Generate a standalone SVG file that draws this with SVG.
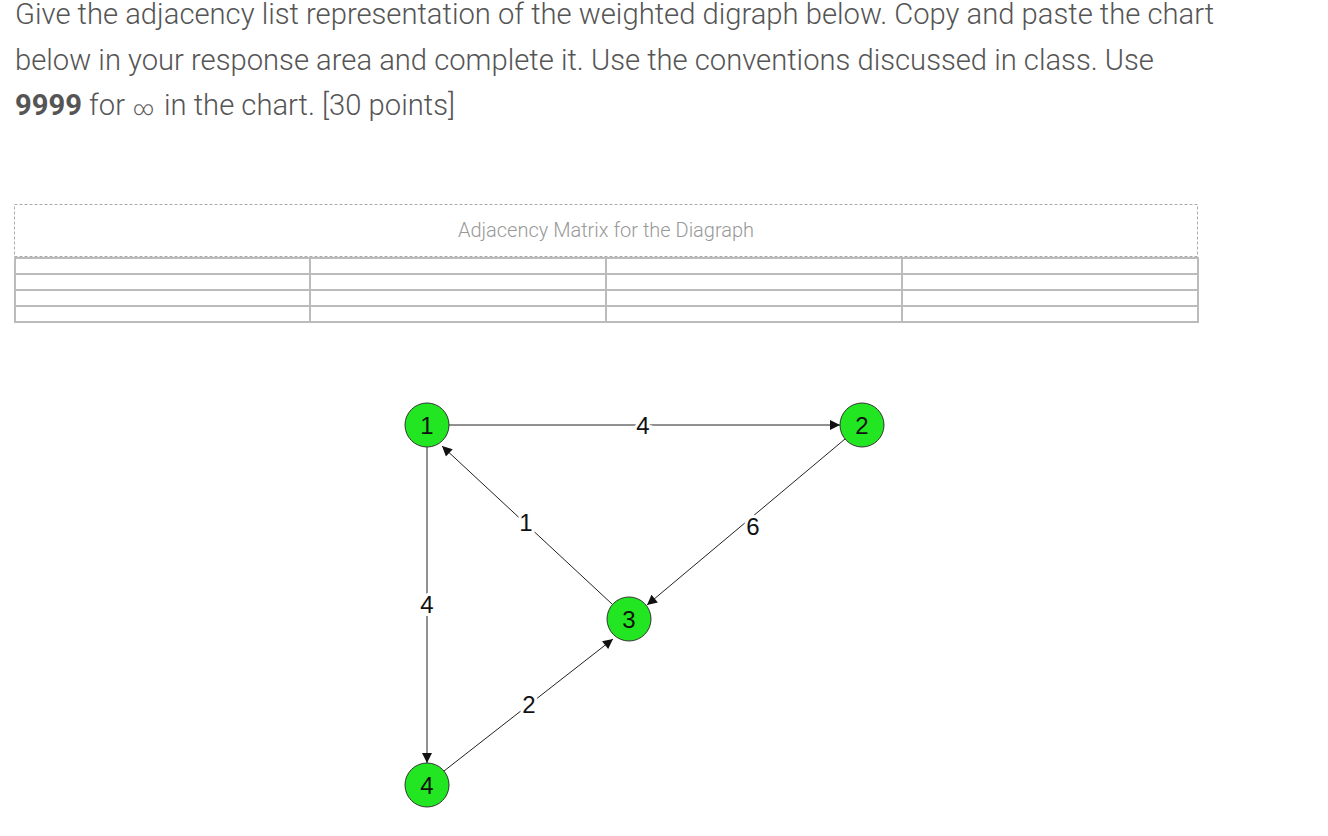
<svg xmlns="http://www.w3.org/2000/svg" width="1328" height="836" viewBox="0 0 1328 836">
<defs>
<style>
.q{font-family:Roboto,"Liberation Sans",sans-serif;font-weight:300;font-size:29.2px;fill:#555}
.cap{font-family:Roboto,"Liberation Sans",sans-serif;font-weight:300;font-size:20px;fill:#999}
.grid{stroke:#bbb;stroke-width:2;fill:none}
.edge{stroke:#222;stroke-width:1;fill:none}
.node circle{fill:#22e622;stroke:#333;stroke-width:1}
.nl{font-family:Arial,"Liberation Sans",sans-serif;font-size:24px;fill:#111;text-anchor:middle;dominant-baseline:central}
.el{font-family:Arial,"Liberation Sans",sans-serif;font-size:24px;fill:#111;text-anchor:middle;dominant-baseline:central;stroke:#fff;stroke-width:6;paint-order:stroke}
</style>
<marker id="arr" viewBox="0 0 10 10" refX="10" refY="5" markerWidth="12" markerHeight="10" markerUnits="userSpaceOnUse" orient="auto">
<path d="M0,0 L10,5 L0,10 z" fill="#111"/>
</marker>
</defs>
<rect width="1328" height="836" fill="#fff"/>
<g id="question">
<text class="q" x="15" y="24">Give the adjacency list representation of the weighted digraph below. Copy and paste the chart</text>
<text class="q" x="15" y="69.5">below in your response area and complete it. Use the conventions discussed in class. Use</text>
<text class="q" x="15" y="115"><tspan font-weight="700" fill="#555">9999</tspan> for <tspan x="133" font-size="20">∞</tspan><tspan x="164">in the chart. [30 points]</tspan></text>
</g>
<g id="table">
<rect x="14.5" y="204.5" width="1183" height="52" fill="none" stroke="#aaa" stroke-width="1" stroke-dasharray="3,2"/>
<text class="cap" x="606" y="237" text-anchor="middle">Adjacency Matrix for the Diagraph</text>
<rect class="grid" x="15" y="258" width="1183" height="64"/>
<line class="grid" x1="15" y1="274" x2="1198" y2="274"/>
<line class="grid" x1="15" y1="290" x2="1198" y2="290"/>
<line class="grid" x1="15" y1="306" x2="1198" y2="306"/>
<line class="grid" x1="310" y1="258" x2="310" y2="322"/>
<line class="grid" x1="606" y1="258" x2="606" y2="322"/>
<line class="grid" x1="902" y1="258" x2="902" y2="322"/>
</g>
<g id="connectors">
<line class="edge" x1="449" y1="425" x2="840" y2="425" marker-end="url(#arr)"/>
<line class="edge" x1="612" y1="604" x2="442" y2="446" marker-end="url(#arr)"/>
<line class="edge" x1="845" y1="439" x2="647" y2="605" marker-end="url(#arr)"/>
<line class="edge" x1="427" y1="447" x2="427" y2="763" marker-end="url(#arr)"/>
<line class="edge" x1="444" y1="771" x2="613" y2="639" marker-end="url(#arr)"/>
<text class="el" x="643" y="425">4</text>
<text class="el" x="526" y="522">1</text>
<text class="el" x="753" y="526">6</text>
<text class="el" x="427" y="604">4</text>
<text class="el" x="529" y="704">2</text>
</g>
<g id="n1" class="node"><circle cx="427" cy="425" r="22"/><text class="nl" x="427" y="425">1</text></g>
<g id="n2" class="node"><circle cx="862" cy="425" r="22"/><text class="nl" x="862" y="425">2</text></g>
<g id="n3" class="node"><circle cx="629" cy="619" r="22"/><text class="nl" x="629" y="619">3</text></g>
<g id="n4" class="node"><circle cx="427" cy="785" r="22"/><text class="nl" x="427" y="785">4</text></g>
</svg>
